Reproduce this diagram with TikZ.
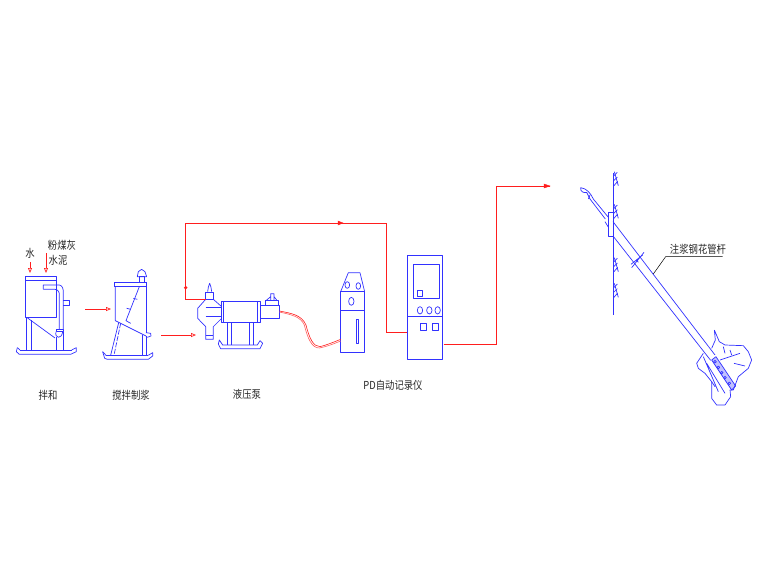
\documentclass[tikz,border=0pt]{standalone}
\usepackage{fontspec}
\newfontfamily\cjk{Noto Sans CJK SC}
\usetikzlibrary{arrows.meta}
\definecolor{eq}{RGB}{50,50,255}
\definecolor{flow}{RGB}{255,30,30}
\tikzset{
 eqline/.style={draw=eq,line width=0.7pt,line join=round},
 flowline/.style={draw=flow,line width=0.7pt},
 flowarrow/.style={flowline,-{Triangle[open,length=5pt,width=4pt]}},
 lab/.style={font=\cjk\fontsize{11}{11}\selectfont,text=black!85,inner sep=0pt,xscale=.85},
 z1/.style={shift={(10,230)},x=.3333pt,y=-.3333pt},
 z2/.style={shift={(170,250)},x=.3333pt,y=-.3333pt},
 z3/.style={shift={(330,240)},x=.3333pt,y=-.3333pt},
 z4/.style={shift={(570,175)},x=.3333pt,y=-.3333pt},
 z5/.style={shift={(670,310)},x=.3333pt,y=-.3333pt},
}
\begin{document}
\begin{tikzpicture}[x=1pt,y=-1pt]
\useasboundingbox (0,0) rectangle (760,571);
\fill[white] (0,0) rectangle (760,571);
% mixer
\begin{scope}[z1,eqline]
\draw (47,140) rectangle (140,262);
\draw (47,152)--(140,152);
\draw (100,178)--(100,165)--(148,165)..controls (158,168) and (160,175)..(160,190)--(160,298);
\draw (100,178)--(135,178)..controls (145,180) and (148,185)..(148,195)--(148,298);
\draw (160,212)--(178,212)--(178,226)--(160,226);
\draw (138,298) rectangle (160,305);
\draw (50,262)--(135,324);
\draw (50,262)--(50,360) (64,270)--(64,360) (140,322)--(140,360) (160,305)--(160,360);
\draw (138,305)..controls (133,325) and (155,330)..(158,305);
\draw (30,360)--(185,360);
\draw (22,353)--(19,365)--(28,373)--(182,373)--(199,365)--(199,353)--(185,360);
\draw (22,353)--(30,360);
\end{scope}
% agitator
\begin{scope}[z1,eqline]
\draw (313,158)--(410,158) (313,170)--(410,170) (313,158)--(313,170) (410,158)--(410,170);
\draw (316,170)--(316,272)--(408,318);
\draw (410,170)--(410,310);
\draw (388,170)--(348,272)--(362,280);
\draw (370,205)--(382,208) (350,235)--(362,238);
\draw (388,158)--(388,140)--(404,140)--(404,158);
\draw (382,140)--(385,125)--(395,118)--(405,125)--(410,140)--cycle;
\draw (326,278)--(302,376);
\draw[dash pattern=on 5pt off 1.5pt] (332,280)--(312,376);
\draw (396,315)--(396,376) (408,318)--(408,376);
\draw (408,308)--(422,310)--(423,318)--(412,322);
\draw (288,376)--(415,376);
\draw (278,365)--(284,385)--(292,388)--(415,388)--(428,378)--(428,368)--(415,376);
\draw (278,365)--(288,376);
\end{scope}
% pump
\begin{scope}[z2,eqline]
\draw (107,148)--(83,175)--(83,205)--(107,230)--(107,268)--(130,268)--(130,230)--(155,205);
\draw (130,148)--(155,170);
\draw (107,148)--(107,127)--(130,127)--(130,148)--cycle;
\draw (113,125)--(115,112)--(119,100)--(123,112)--(125,125);
\draw (107,172)--(155,172) (107,198)--(155,198) (107,255)--(130,255);
\draw (155,155) rectangle (270,217);
\draw (160,155)--(160,217) (262,155)--(262,217);
\draw (270,165) rectangle (328,205);
\draw (285,165)--(285,150)--(325,150)--(325,165);
\draw (302,150)--(302,131)--(312,131)--(312,150) (290,150)--(302,140) (312,140)--(320,150);
\draw (172,217)--(172,285) (183,217)--(183,285) (238,217)--(238,285) (250,217)--(250,285);
\draw (148,270)--(145,282)--(152,296)--(270,296)--(278,280)--(270,272)--(262,285)--(158,285)--cycle;
\end{scope}
% control box
\begin{scope}[z2,eqline]
\draw (512,125)--(535,68)--(570,68)--(584,125);
\draw (512,125) rectangle (584,307);
\draw (512,180)--(584,180);
\draw (532,105) ellipse [x radius=7,y radius=10];
\draw (565,108) ellipse [x radius=7,y radius=10];
\draw (544,154) ellipse [x radius=8,y radius=12];
\draw (558,208) rectangle (565,280);
\end{scope}
% recorder
\begin{scope}[z3,eqline]
\draw (232,46) rectangle (338,357);
\draw (232,229)--(338,229);
\draw (250,72) rectangle (328,175);
\draw (262,151) rectangle (278,170);
\foreach \x in {270,298,323} \draw (\x,211) ellipse [x radius=8,y radius=11];
\draw (270,250) rectangle (290,271);
\draw (307,250) rectangle (325,271);
\end{scope}
% flow lines
\coordinate (pumpin) at (205.7,299.3);
\coordinate (branch) at (185.7,287.7);
\coordinate (recin) at (407.3,332);
\coordinate (recout) at (443.5,344);
\coordinate (outend) at (550,186);
\draw[flowline] (pumpin)--(185.7,299.3)--(branch)--(185.7,223)--(386.7,223)--(386.7,332)--(recin);
\fill[flow] (branch) circle (1.8pt);
\draw[flow,fill=flow] (338,221)--(343,223)--(338,225)--cycle;
\draw[flowline] (recout)--(496,344)--(496,186)--(outend);
\draw[flow,fill=flow] (544,184)--(550,186)--(544,188)--cycle;
\draw[flowarrow] (85,309)--(111,309);
\draw[flowarrow] (161,335)--(196,335);
\draw[flowarrow] (30,262)--(30,273);
\draw[flowarrow] (46,253)--(46,273);
\begin{scope}[z2]
\draw[flow,line width=.6pt] (328,183)..controls (365,190) and (395,195)..(408,225)..controls (418,265) and (430,290)..(450,290)..controls (470,285) and (495,275)..(512,268);
\draw[flow!70,line width=.6pt] (328,186)..controls (365,194) and (392,200)..(403,225)..controls (413,265) and (425,294)..(448,294)..controls (470,290) and (495,280)..(512,273);
\end{scope}
% anchor
\begin{scope}[z4,eqline]
\draw[line width=1pt] (129,-6)--(129,420);
\draw (114,112) rectangle (129,184);
\foreach \y in {10,108,268,345}{
 \draw (133,\y-20)--(145,\y+22);
 \draw (130,\y+8)--(142,\y-4) (130,\y-6)--(142,\y-18) (132,\y+22)--(143,\y+9);
}
\draw (129,140)--(435,540) (129,183)--(422,556);
\draw (116,128)--(70,72)..controls (62,55) and (50,40)..(32,38)..controls (30,50) and (42,55)..(50,52)--(60,72);
\draw (60,72)--(106,132) (105,140)--(116,158);
\draw (60,60)--(55,72);
\draw (185,278)--(222,232) (183,268)--(218,240) (200,256)--(205,262);
\draw[fill=eq] (201,256) circle (1.2);
\end{scope}
\begin{scope}[z5,eqline]
\draw[fill=eq!30] (125,150)--(138,140)--(197,228)--(185,240)--cycle;
\foreach \p in {(135,155),(145,172),(155,188),(165,203),(178,220)} \draw \p circle (4);
\draw (133,60)--(136,90)--(125,115) (133,60)--(148,95)--(165,105)--(220,107)--(235,125)--(245,150)--(235,175)--(205,200)--(190,240)--(180,240)--(182,260)--(165,285)--(140,285)--(125,265)--(125,215)--(105,190)--(85,175)--(80,160)--(100,130);
\draw (150,150)--(210,130) (160,110)--(165,130) (180,120)--(185,135) (192,160)--(225,168);
\draw (100,140)--(145,245) (110,160)--(165,250) (125,215)--(135,230);
\end{scope}
% leader
\begin{scope}[z4]
\coordinate (lead0) at (250,297);
\coordinate (lead1) at (287,245);
\coordinate (lead2) at (458,245);
\end{scope}
\draw[black,line width=.5pt] (lead0)--(lead1)--(lead2);
% labels
\node[lab] (water) at (30,253) {水};
\node[lab] (ash) at (62,245) {粉煤灰};
\node[lab] (cement) at (58,260) {水泥};
\node[lab] (mix) at (48,395) {拌和};
\node[lab] (slurry) at (131,395) {搅拌制浆};
\node[lab] (pumpname) at (247,394) {液压泵};
\node[lab] (recname) at (393,385) {PD自动记录仪};
\node[lab] (pipe) at (698,249) {注浆钢花管杆};
\end{tikzpicture}
\end{document}
